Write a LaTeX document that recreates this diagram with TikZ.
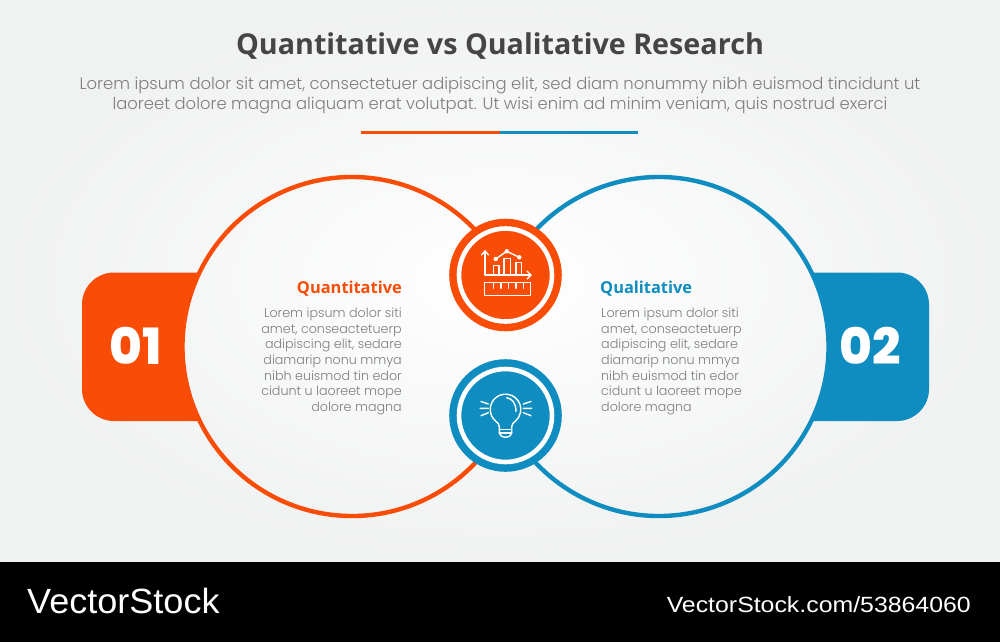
\documentclass[tikz,border=0pt]{standalone}
\usepackage{fontspec}
\setmainfont{Open Sans}
\newfontfamily\popfont{Poppins Light}
\newfontfamily\popbold{Poppins ExtraBold}
\newfontfamily\markfont{Liberation Sans}[FakeStretch=1.03]
\newfontfamily\markfontb{Liberation Sans}[FakeStretch=1.13]
\definecolor{oran}{HTML}{F94C07}
\definecolor{blu}{HTML}{0F8DC0}
\definecolor{titlegray}{HTML}{454545}
\definecolor{bodygray}{HTML}{7E7E7E}
\definecolor{bgedge}{HTML}{F0F1F1}
\tikzset{
  x=1pt,y=-1pt,
  bigring/.style={line width=4.4pt,line cap=butt},
  iconline/.style={draw=white,line width=1.4pt,line join=round,line cap=round},
  badgenum/.style={text=white,font=\popbold\fontsize{50}{50}\selectfont,inner sep=0pt},
  bodytxt/.style={text=bodygray,font=\popfont\fontsize{12.7}{15.6}\selectfont,inner sep=0pt},
  headtxt/.style={font=\bfseries\fontsize{16.4}{20}\selectfont,inner sep=0pt},
  introtxt/.style={text=bodygray,font=\popfont\fontsize{16.42}{21}\selectfont,inner sep=0pt},
  marktxt/.style={text=white,inner sep=0pt},
}
\begin{document}
\begin{tikzpicture}
\useasboundingbox (0,0) rectangle (1000,642);
\shade[inner color=white,outer color=bgedge] (0,0) rectangle (1000,562);
\fill[black] (0,562) rectangle (1000,642);
% title
\node[text=titlegray,font=\bfseries\fontsize{28.7}{34}\selectfont,inner sep=0pt,anchor=base] (title) at (500,55) {Quantitative vs Qualitative Research};
\node[introtxt,anchor=base] (introa) at (500,89) {Lorem ipsum dolor sit amet, consectetuer adipiscing elit, sed diam nonummy nibh euismod tincidunt ut};
\node[introtxt,anchor=base] (introb) at (500,109) {laoreet dolore magna aliquam erat volutpat. Ut wisi enim ad minim veniam, quis nostrud exerci};
\draw[oran,line width=3.5pt] (361,132.5) -- (500,132.5);
\draw[blu,line width=3.5pt] (500,132.5) -- (638,132.5);
% badges
\begin{scope}[even odd rule]
\clip (0,0) rectangle (1000,642) (352,346.5) circle[radius=169.5pt] (659,346.5) circle[radius=169.5pt];
\fill[oran,rounded corners=32pt] (82,272.5) rectangle (300,421);
\fill[blu,rounded corners=32pt] (710,272.5) rectangle (929,421);
\end{scope}
% rings
\draw[oran,bigring] (498.8,261.75) arc[start angle=30,end angle=330,radius=169.5pt];
\draw[blu,bigring] (512.2,261.75) arc[start angle=150,end angle=-150,radius=169.5pt];
% hubs
\fill[oran] (505.5,275) circle[radius=56.3pt];
\draw[white,line width=4.6pt] (505.5,275) circle[radius=46.5pt];
\fill[blu] (505.5,415.5) circle[radius=56.3pt];
\draw[white,line width=4.6pt] (505.5,415.5) circle[radius=46.5pt];
% chart icon
\draw[iconline] (485,251) -- (485,275) -- (530.5,275);
\draw[iconline] (481.5,255) -- (485,251) -- (488.5,255);
\draw[iconline] (527,271) -- (531,275) -- (527,279);
\draw[iconline] (493.3,275) -- (493.3,265.7) -- (499,265.7) -- (499,275);
\draw[iconline] (504,275) -- (504,258.3) -- (510.7,258.3) -- (510.7,275);
\draw[iconline] (516,275) -- (516,262.3) -- (521.7,262.3) -- (521.7,275);
\draw[iconline] (495.7,259) -- (506.7,251.3) -- (519.3,257.3);
\fill[white] (495.7,259) circle[radius=2.2pt] (506.7,251.3) circle[radius=2.2pt] (519.3,257.3) circle[radius=2.2pt];
\draw[iconline] (484.3,282.7) rectangle (530.7,295.3);
\foreach \tx in {493.3,501,508.5,516,523.5}{\draw[iconline] (\tx,282.7) -- (\tx,288.3);}
% bulb icon
\draw[iconline] (495.7,421.2) arc[start angle=230,end angle=-50,radius=15.3pt]
  .. controls (513,423) and (511.7,424) .. (511.7,427) -- (511.7,433) .. controls (511.7,435) and (509,437.2) .. (505.5,437.2)
  .. controls (502,437.2) and (499.3,435) .. (499.3,433) -- (499.3,427) .. controls (499.3,424) and (498,423) .. (495.7,421.2);
\draw[iconline] (499.3,429.5) -- (511.7,429.5) (499.3,433) -- (511.7,433);
\draw[iconline] (506.7,397.7) .. controls (512,398.5) and (516,403) .. (516,411.5);
\draw[iconline] (481,401.5) -- (488.3,404) (480,408.3) -- (488.3,408.3) (481,415.7) -- (488.3,412.7);
\draw[iconline] (531,401.5) -- (523.3,404) (531.7,408.3) -- (523.3,408.3) (531,415.7) -- (523.3,412.7);
% badge numbers
\node[badgenum,anchor=base] (numa) at (135.5,364) {01};
\node[badgenum,anchor=base] (numb) at (870.5,364) {02};
% column text
\node[headtxt,text=oran,anchor=base east] (heada) at (402,293) {Quantitative};
\node[headtxt,text=blu,anchor=base west] (headb) at (600,293) {Qualitative};
\node[bodytxt,align=right,anchor=north east] (bodya) at (402,308) {Lorem ipsum dolor siti\\amet, conseactetuerp\\adipiscing elit, sedare\\diamarip nonu mmya\\nibh euismod tin edor\\cidunt u laoreet mope\\dolore magna};
\node[bodytxt,align=left,anchor=north west] (bodyb) at (601,308) {Lorem ipsum dolor siti\\amet, conseactetuerp\\adipiscing elit, sedare\\diamarip nonu mmya\\nibh euismod tin edor\\cidunt u laoreet mope\\dolore magna};
% watermark
\node[marktxt,anchor=base west,font=\markfont\fontsize{35}{36}\selectfont] (marka) at (27,613) {VectorStock};
\node[marktxt,anchor=base east,font=\markfontb\fontsize{22}{24}\selectfont] (markb) at (971,612) {VectorStock.com/53864060};
\end{tikzpicture}
\end{document}
